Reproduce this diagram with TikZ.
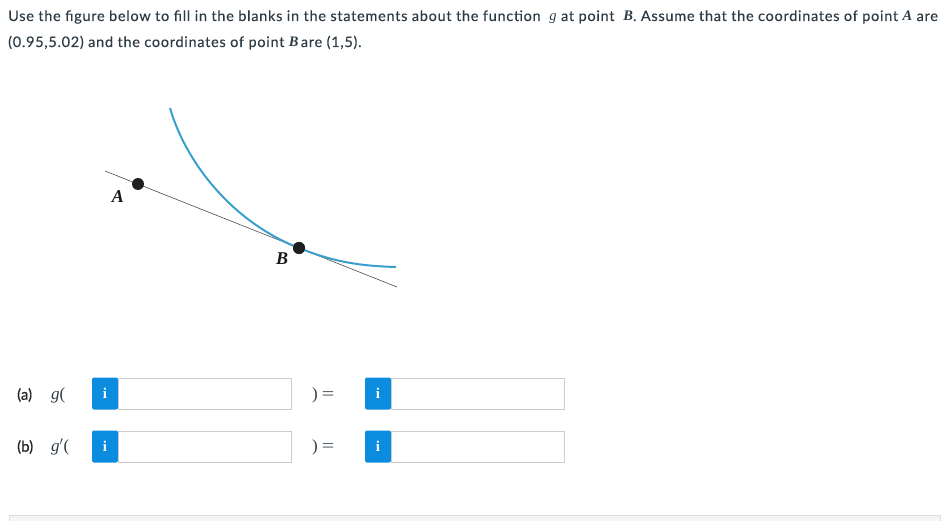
\documentclass[tikz,border=0pt]{standalone}
\usepackage{fontspec}
\setmainfont{Lato}
\newfontfamily\serif{Liberation Serif}
\newfontfamily\parafont[LetterSpace=5,FakeBold=0.2]{Lato}
\newfontfamily\partfont[FakeBold=0.6]{Lato}
\definecolor{txt}{HTML}{2D3B45}
\definecolor{curve}{HTML}{3A9FCB}
\definecolor{infoblue}{HTML}{0B8CDE}
\definecolor{boxline}{HTML}{CCCCCC}
\definecolor{barfill}{HTML}{F5F5F5}
\definecolor{barline}{HTML}{DDDDDD}
\begin{document}
\begin{tikzpicture}[x=1pt,y=-1pt,
  para/.style={anchor=base west,inner sep=0,text=txt,font=\parafont\fontsize{14.5}{16}\selectfont},
  ptlabel/.style={inner sep=0,font=\serif\bfseries\itshape\fontsize{18}{20}\selectfont,text=black!90},
  dot/.style={circle,fill=black!88,minimum size=12pt,inner sep=0},
  partlbl/.style={anchor=west,inner sep=0,text=black!85,font=\partfont\fontsize{15}{17}\selectfont},
  mathlbl/.style={anchor=west,inner sep=0,text=txt,font=\serif\fontsize{17}{19}\selectfont},
  infobox/.style={fill=infoblue,rounded corners=2pt,minimum width=26pt,minimum height=32pt,inner sep=0,text=white,font=\serif\bfseries\fontsize{15}{17}\selectfont},
  inputbox/.style={draw=boxline,line width=1pt,fill=white,minimum width=173pt,minimum height=31pt,inner sep=0}]
\useasboundingbox (0,0) rectangle (950,521);
% question text
\node[para] (l1) at (8,21) {Use the figure below to fill in the blanks in the statements about the function \ {\serif\itshape g} at point \ {\serif\bfseries\itshape B}. Assume that the coordinates of point {\serif\bfseries\itshape A} are};
\node[para] (l2) at (8,47) {(0.95,5.02) and the coordinates of point {\serif\bfseries\itshape B}\,are (1,5).};
% figure
\coordinate (L0) at (105,171);
\coordinate (L1) at (397,287);
\draw[black!70,line width=0.6pt] (L0) -- (L1);
\coordinate (C0) at (170,108);
\coordinate (C1) at (396,267);
\node[dot] (A) at (138,184) {};
\node[dot] (B) at (299,248) {};
\draw[curve,line width=2pt] (C0) .. controls (185,160) and (230,221) .. (B.center)
  .. controls (334,262) and (360,266) .. (C1);
\node[dot] at (B) {};
\node[ptlabel] (Alab) at (118,197) {A};
\node[ptlabel] (Blab) at (282,259) {B};
% form rows
\node[partlbl] (pa) at (17,395) {(a)};
\node[mathlbl] (ga) at (51,395) {\itshape g\upshape(};
\node[infobox] (ia) at (105,393.5) {i};
\node[inputbox,anchor=west] (fa) at (118,393.5) {};
\node[mathlbl] (eqa) at (312,395) {)\hspace{4pt}\scalebox{1.3}[1]{=}};
\node[infobox] (ia2) at (378,393.5) {i};
\node[inputbox,anchor=west] (fa2) at (391,393.5) {};

\node[partlbl] (pb) at (17,447) {(b)};
\node[mathlbl] (gb) at (51,447) {\itshape g\upshape$'$(};
\node[infobox] (ib) at (105,446.5) {i};
\node[inputbox,anchor=west] (fb) at (118,446.5) {};
\node[mathlbl] (eqb) at (312,447) {)\hspace{4pt}\scalebox{1.3}[1]{=}};
\node[infobox] (ib2) at (378,446.5) {i};
\node[inputbox,anchor=west] (fb2) at (391,446.5) {};
% bottom bar
\draw[barline,fill=barfill,line width=1pt] (9,528) -- (9,515.5) -- (940,515.5) -- (940,528);
\end{tikzpicture}
\end{document}
